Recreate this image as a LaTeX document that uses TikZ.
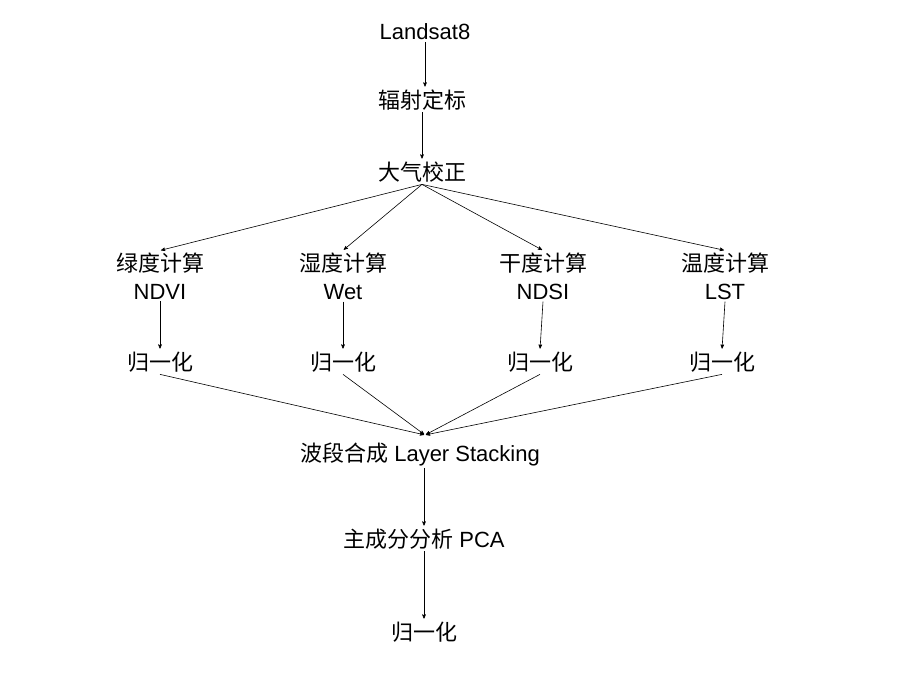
\documentclass[tikz,border=0pt]{standalone}
\usepackage{fontspec}
\setmainfont{Liberation Sans}
\newfontfamily\cjk{Noto Sans CJK SC}
\begin{document}
\begin{tikzpicture}[x=1pt,y=-1pt,
  t/.style={font=\fontsize{22}{28}\selectfont, inner sep=2pt, align=center},
  a/.style={->, line width=0.6pt, >=stealth', shorten >=1pt}]
\useasboundingbox (0,0) rectangle (903,679);
\usetikzlibrary{arrows}
\node[t] (ls) at (425,32) {Landsat8};
\node[t] (fs) at (422,100) {\cjk 辐射定标};
\node[t] (dq) at (422,172) {\cjk 大气校正};
\node[t] (g1) at (160,276) {{\cjk 绿度计算}\\NDVI};
\node[t] (g2) at (343,276) {{\cjk 湿度计算}\\Wet};
\node[t] (g3) at (543,276) {{\cjk 干度计算}\\NDSI};
\node[t] (g4) at (725,276) {{\cjk 温度计算}\\LST};
\node[t] (n1) at (160,362) {\cjk 归一化};
\node[t] (n2) at (343,362) {\cjk 归一化};
\node[t] (n3) at (540,362) {\cjk 归一化};
\node[t] (n4) at (722,362) {\cjk 归一化};
\node[t] (bd) at (420,454) {{\cjk 波段合成} Layer Stacking};
\node[t] (pca) at (424,539) {{\cjk 主成分分析} PCA};
\node[t] (nf) at (424,632) {\cjk 归一化};
\draw[a] (ls) -- (ls|-fs.north);
\draw[a] (fs) -- (fs|-dq.north);
\foreach \g in {g1,g2,g3,g4} \draw[a] (dq.south) -- (\g.north);
\foreach \g/\n in {g1/n1,g2/n2,g3/n3,g4/n4} \draw[a] (\g.south) -- (\n.north);
\foreach \n in {n1,n2,n3,n4} \draw[a] (\n.south) -- (425,435);
\draw[a] (bd.south-|pca) -- (pca.north);
\draw[a] (pca) -- (nf);
\end{tikzpicture}
\end{document}
